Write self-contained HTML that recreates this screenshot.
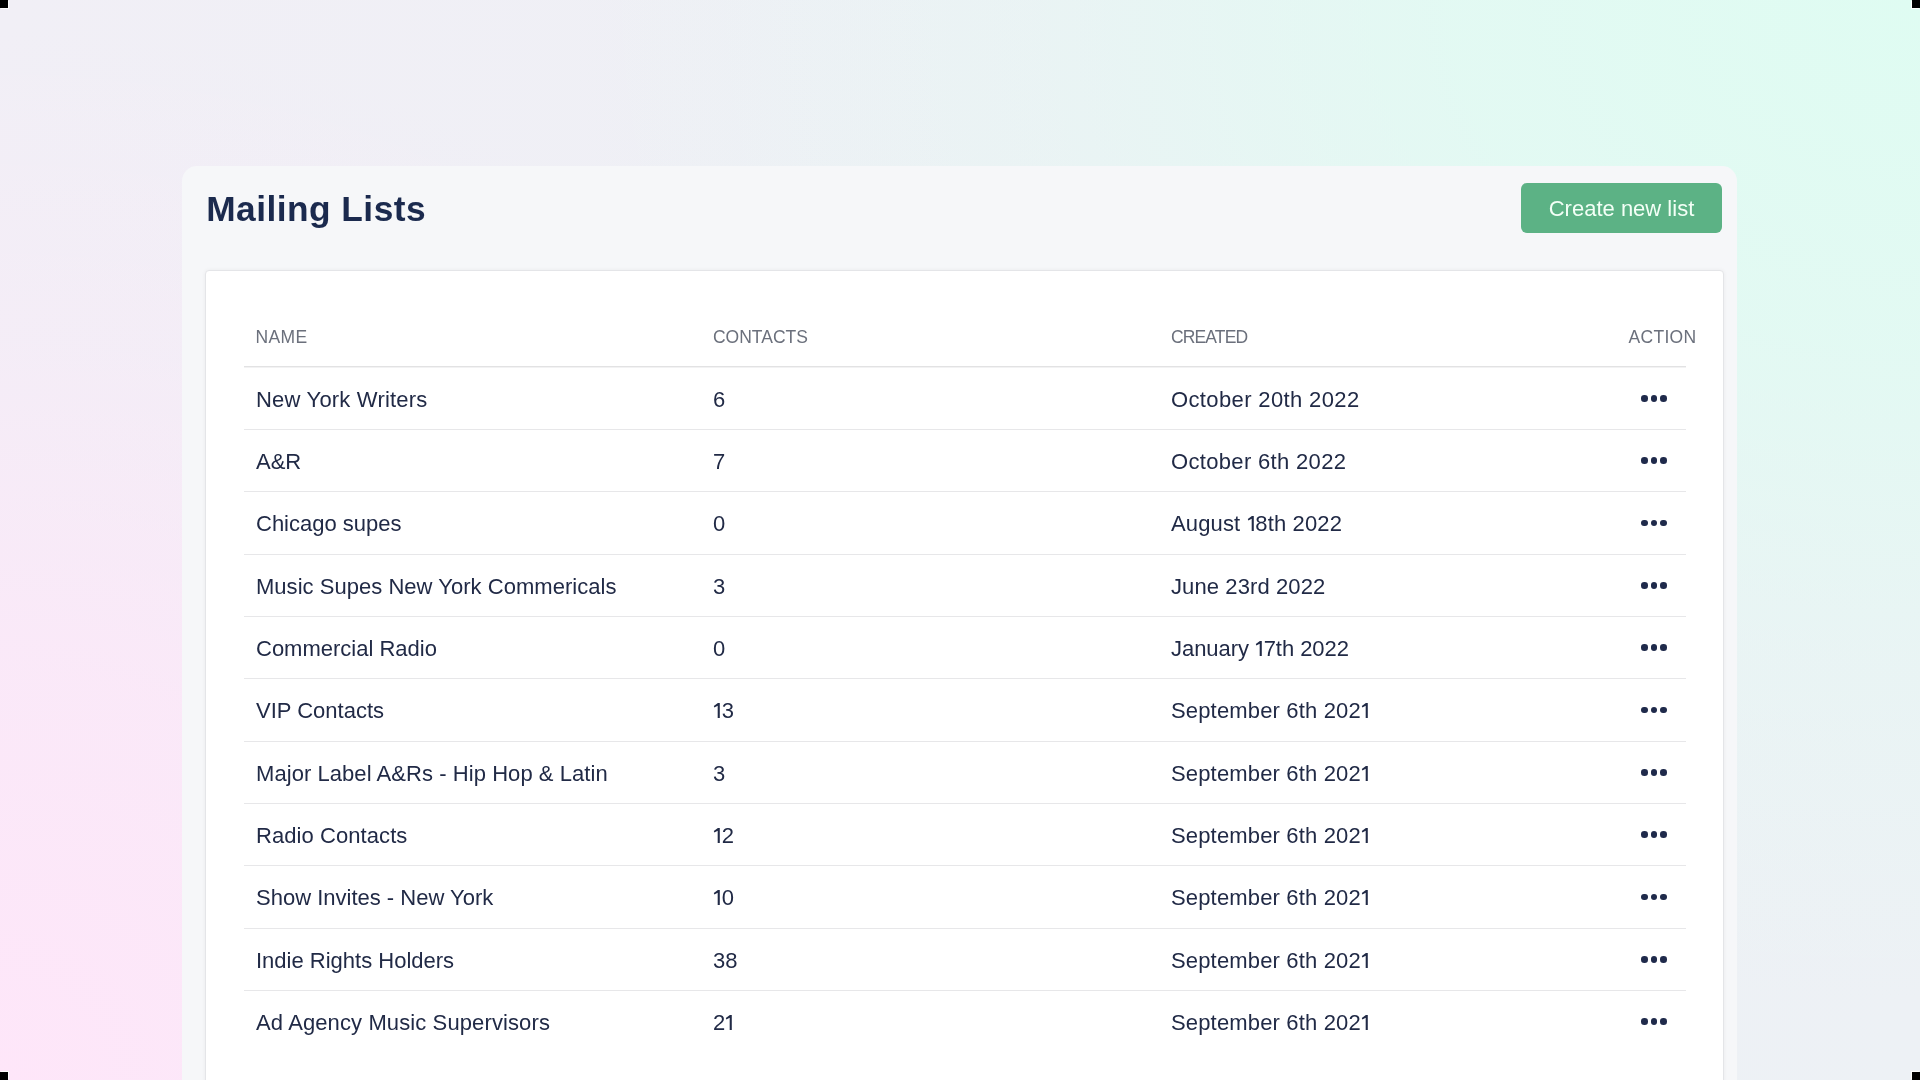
<!DOCTYPE html>
<html><head><meta charset="utf-8">
<style>
*{margin:0;padding:0;box-sizing:border-box}
html,body{width:1920px;height:1080px;overflow:hidden}
body{position:relative;will-change:transform;font-family:"Liberation Sans",sans-serif;
background:
 radial-gradient(ellipse 1350px 1000px at 1920px 0px, rgba(223,252,242,1) 0%, rgba(223,252,242,0.75) 35%, rgba(223,252,242,0.3) 65%, rgba(223,252,242,0) 100%),
 radial-gradient(ellipse 1100px 1050px at 0px 1080px, rgba(254,230,249,1) 0%, rgba(254,230,249,0.7) 40%, rgba(254,230,249,0.25) 70%, rgba(254,230,249,0) 100%),
 linear-gradient(to right, #f1eff6 0%, #eef0f5 60%, #edf1f5 100%);}
.corner{position:absolute;width:8px;height:8px;background:#000;}
.corner.tl{left:0;top:0;box-shadow:1px 1px 0 0 #fff}
.corner.tr{right:0;top:0;box-shadow:-1px 1px 0 0 #fff}
.corner.bl{left:0;bottom:0;box-shadow:1px -1px 0 0 #fff}
.corner.br{right:0;bottom:0;box-shadow:-1px -1px 0 0 #fff}
.outer{position:absolute;left:181.6px;top:166px;width:1555px;height:1000px;background:#f6f7f9;border-radius:15px;}
.title{position:absolute;left:206.2px;top:191.2px;font-size:35.3px;line-height:36px;font-weight:bold;color:#1b2a4e;letter-spacing:0.47px;white-space:nowrap}
.btn{position:absolute;left:1521px;top:183px;width:201px;height:50px;background:#5cb285;border-radius:6px;color:#f3fff6;font-size:22px;line-height:52.6px;text-align:center;}
.inner{position:absolute;left:204.9px;top:269.5px;width:1519px;height:900px;background:#fff;border:1px solid #e4e5e8;border-radius:4px;box-shadow:0 0 4px rgba(0,0,0,0.05)}
.th{position:absolute;top:329.1px;font-size:17.5px;line-height:17px;color:#6b707c;white-space:nowrap;letter-spacing:0.1px}
.hl{position:absolute;left:244px;width:1442px;top:366px;height:2px;background:linear-gradient(to bottom,#e2e2e3 0 50%,#f2f2f3 50% 100%)}
.ln{position:absolute;left:244px;width:1442px;height:1px;background:#e7e7e9}
.r{position:absolute;left:0;width:1920px;height:22px;font-size:22px;line-height:22px;color:#212a46;white-space:nowrap}
.r>span{position:absolute;top:0}
.c1{left:256px} .c2{left:713px} .c3{left:1171px}
.one{display:inline-block;vertical-align:baseline;fill:currentColor;overflow:visible}
.dots{position:absolute;left:1641.4px;height:6.6px;width:26px}
.dots i{position:absolute;top:0;width:6.6px;height:6.6px;border-radius:50%;background:#1f2a4b}
.dots i:nth-child(1){left:0} .dots i:nth-child(2){left:9.5px} .dots i:nth-child(3){left:19px}
</style></head><body>
<div class="corner tl"></div><div class="corner tr"></div><div class="corner bl"></div><div class="corner br"></div>
<div class="outer"></div>
<div class="title">Mailing Lists</div>
<div class="btn">Create new list</div>
<div class="inner"></div>
<div class="th" style="left:255.4px;letter-spacing:0.4px">NAME</div>
<div class="th" style="left:712.9px;letter-spacing:0.02px">CONTACTS</div>
<div class="th" style="left:1170.9px;letter-spacing:-0.85px">CREATED</div>
<div class="th" style="left:1628.5px;letter-spacing:0.3px">ACTION</div>
<div class="hl"></div>
<div class="r" style="top:388.68px"><span class="c1" style="letter-spacing:0.2px">New York Writers</span><span class="c2">6</span><span class="c3" style="letter-spacing:0.37px">October 20th 2022</span></div>
<div class="dots" style="top:395.00px"><i></i><i></i><i></i></div>
<div class="ln" style="top:429.10px"></div>
<div class="r" style="top:451.01px"><span class="c1" style="letter-spacing:0px">A&amp;R</span><span class="c2">7</span><span class="c3" style="letter-spacing:0.33px">October 6th 2022</span></div>
<div class="dots" style="top:457.33px"><i></i><i></i><i></i></div>
<div class="ln" style="top:491.43px"></div>
<div class="r" style="top:513.34px"><span class="c1" style="letter-spacing:0px">Chicago supes</span><span class="c2">0</span><span class="c3" style="letter-spacing:0.14px">August <svg class="one" width="8.7" height="15.1" viewBox="0 0 8.7 15.1"><path d="M4.90 0H6.80V15.1H4.70V2.7L1.35 4.6L0.80 2.95Z"/></svg>8th 2022</span></div>
<div class="dots" style="top:519.66px"><i></i><i></i><i></i></div>
<div class="ln" style="top:553.76px"></div>
<div class="r" style="top:575.67px"><span class="c1" style="letter-spacing:0.03px">Music Supes New York Commericals</span><span class="c2">3</span><span class="c3" style="letter-spacing:0.1px">June 23rd 2022</span></div>
<div class="dots" style="top:581.99px"><i></i><i></i><i></i></div>
<div class="ln" style="top:616.09px"></div>
<div class="r" style="top:638.00px"><span class="c1" style="letter-spacing:0px">Commercial Radio</span><span class="c2">0</span><span class="c3" style="letter-spacing:-0.05px">January <svg class="one" width="8.7" height="15.1" viewBox="0 0 8.7 15.1"><path d="M4.90 0H6.80V15.1H4.70V2.7L1.35 4.6L0.80 2.95Z"/></svg>7th 2022</span></div>
<div class="dots" style="top:644.32px"><i></i><i></i><i></i></div>
<div class="ln" style="top:678.42px"></div>
<div class="r" style="top:700.33px"><span class="c1" style="letter-spacing:0px">VIP Contacts</span><span class="c2"><svg class="one" width="8.7" height="15.1" viewBox="0 0 8.7 15.1"><path d="M4.90 0H6.80V15.1H4.70V2.7L1.35 4.6L0.80 2.95Z"/></svg>3</span><span class="c3" style="letter-spacing:0.16px">September 6th 202<svg class="one" width="8.7" height="15.1" viewBox="0 0 8.7 15.1"><path d="M4.90 0H6.80V15.1H4.70V2.7L1.35 4.6L0.80 2.95Z"/></svg></span></div>
<div class="dots" style="top:706.65px"><i></i><i></i><i></i></div>
<div class="ln" style="top:740.75px"></div>
<div class="r" style="top:762.66px"><span class="c1" style="letter-spacing:0.06px">Major Label A&amp;Rs - Hip Hop &amp; Latin</span><span class="c2">3</span><span class="c3" style="letter-spacing:0.16px">September 6th 202<svg class="one" width="8.7" height="15.1" viewBox="0 0 8.7 15.1"><path d="M4.90 0H6.80V15.1H4.70V2.7L1.35 4.6L0.80 2.95Z"/></svg></span></div>
<div class="dots" style="top:768.98px"><i></i><i></i><i></i></div>
<div class="ln" style="top:803.08px"></div>
<div class="r" style="top:824.99px"><span class="c1" style="letter-spacing:0.07px">Radio Contacts</span><span class="c2"><svg class="one" width="8.7" height="15.1" viewBox="0 0 8.7 15.1"><path d="M4.90 0H6.80V15.1H4.70V2.7L1.35 4.6L0.80 2.95Z"/></svg>2</span><span class="c3" style="letter-spacing:0.16px">September 6th 202<svg class="one" width="8.7" height="15.1" viewBox="0 0 8.7 15.1"><path d="M4.90 0H6.80V15.1H4.70V2.7L1.35 4.6L0.80 2.95Z"/></svg></span></div>
<div class="dots" style="top:831.31px"><i></i><i></i><i></i></div>
<div class="ln" style="top:865.41px"></div>
<div class="r" style="top:887.32px"><span class="c1" style="letter-spacing:0px">Show Invites - New York</span><span class="c2"><svg class="one" width="8.7" height="15.1" viewBox="0 0 8.7 15.1"><path d="M4.90 0H6.80V15.1H4.70V2.7L1.35 4.6L0.80 2.95Z"/></svg>0</span><span class="c3" style="letter-spacing:0.16px">September 6th 202<svg class="one" width="8.7" height="15.1" viewBox="0 0 8.7 15.1"><path d="M4.90 0H6.80V15.1H4.70V2.7L1.35 4.6L0.80 2.95Z"/></svg></span></div>
<div class="dots" style="top:893.64px"><i></i><i></i><i></i></div>
<div class="ln" style="top:927.74px"></div>
<div class="r" style="top:949.65px"><span class="c1" style="letter-spacing:0px">Indie Rights Holders</span><span class="c2">38</span><span class="c3" style="letter-spacing:0.16px">September 6th 202<svg class="one" width="8.7" height="15.1" viewBox="0 0 8.7 15.1"><path d="M4.90 0H6.80V15.1H4.70V2.7L1.35 4.6L0.80 2.95Z"/></svg></span></div>
<div class="dots" style="top:955.97px"><i></i><i></i><i></i></div>
<div class="ln" style="top:990.07px"></div>
<div class="r" style="top:1011.98px"><span class="c1" style="letter-spacing:0.11px">Ad Agency Music Supervisors</span><span class="c2">2<svg class="one" width="8.7" height="15.1" viewBox="0 0 8.7 15.1"><path d="M4.90 0H6.80V15.1H4.70V2.7L1.35 4.6L0.80 2.95Z"/></svg></span><span class="c3" style="letter-spacing:0.16px">September 6th 202<svg class="one" width="8.7" height="15.1" viewBox="0 0 8.7 15.1"><path d="M4.90 0H6.80V15.1H4.70V2.7L1.35 4.6L0.80 2.95Z"/></svg></span></div>
<div class="dots" style="top:1018.30px"><i></i><i></i><i></i></div>
</body></html>
